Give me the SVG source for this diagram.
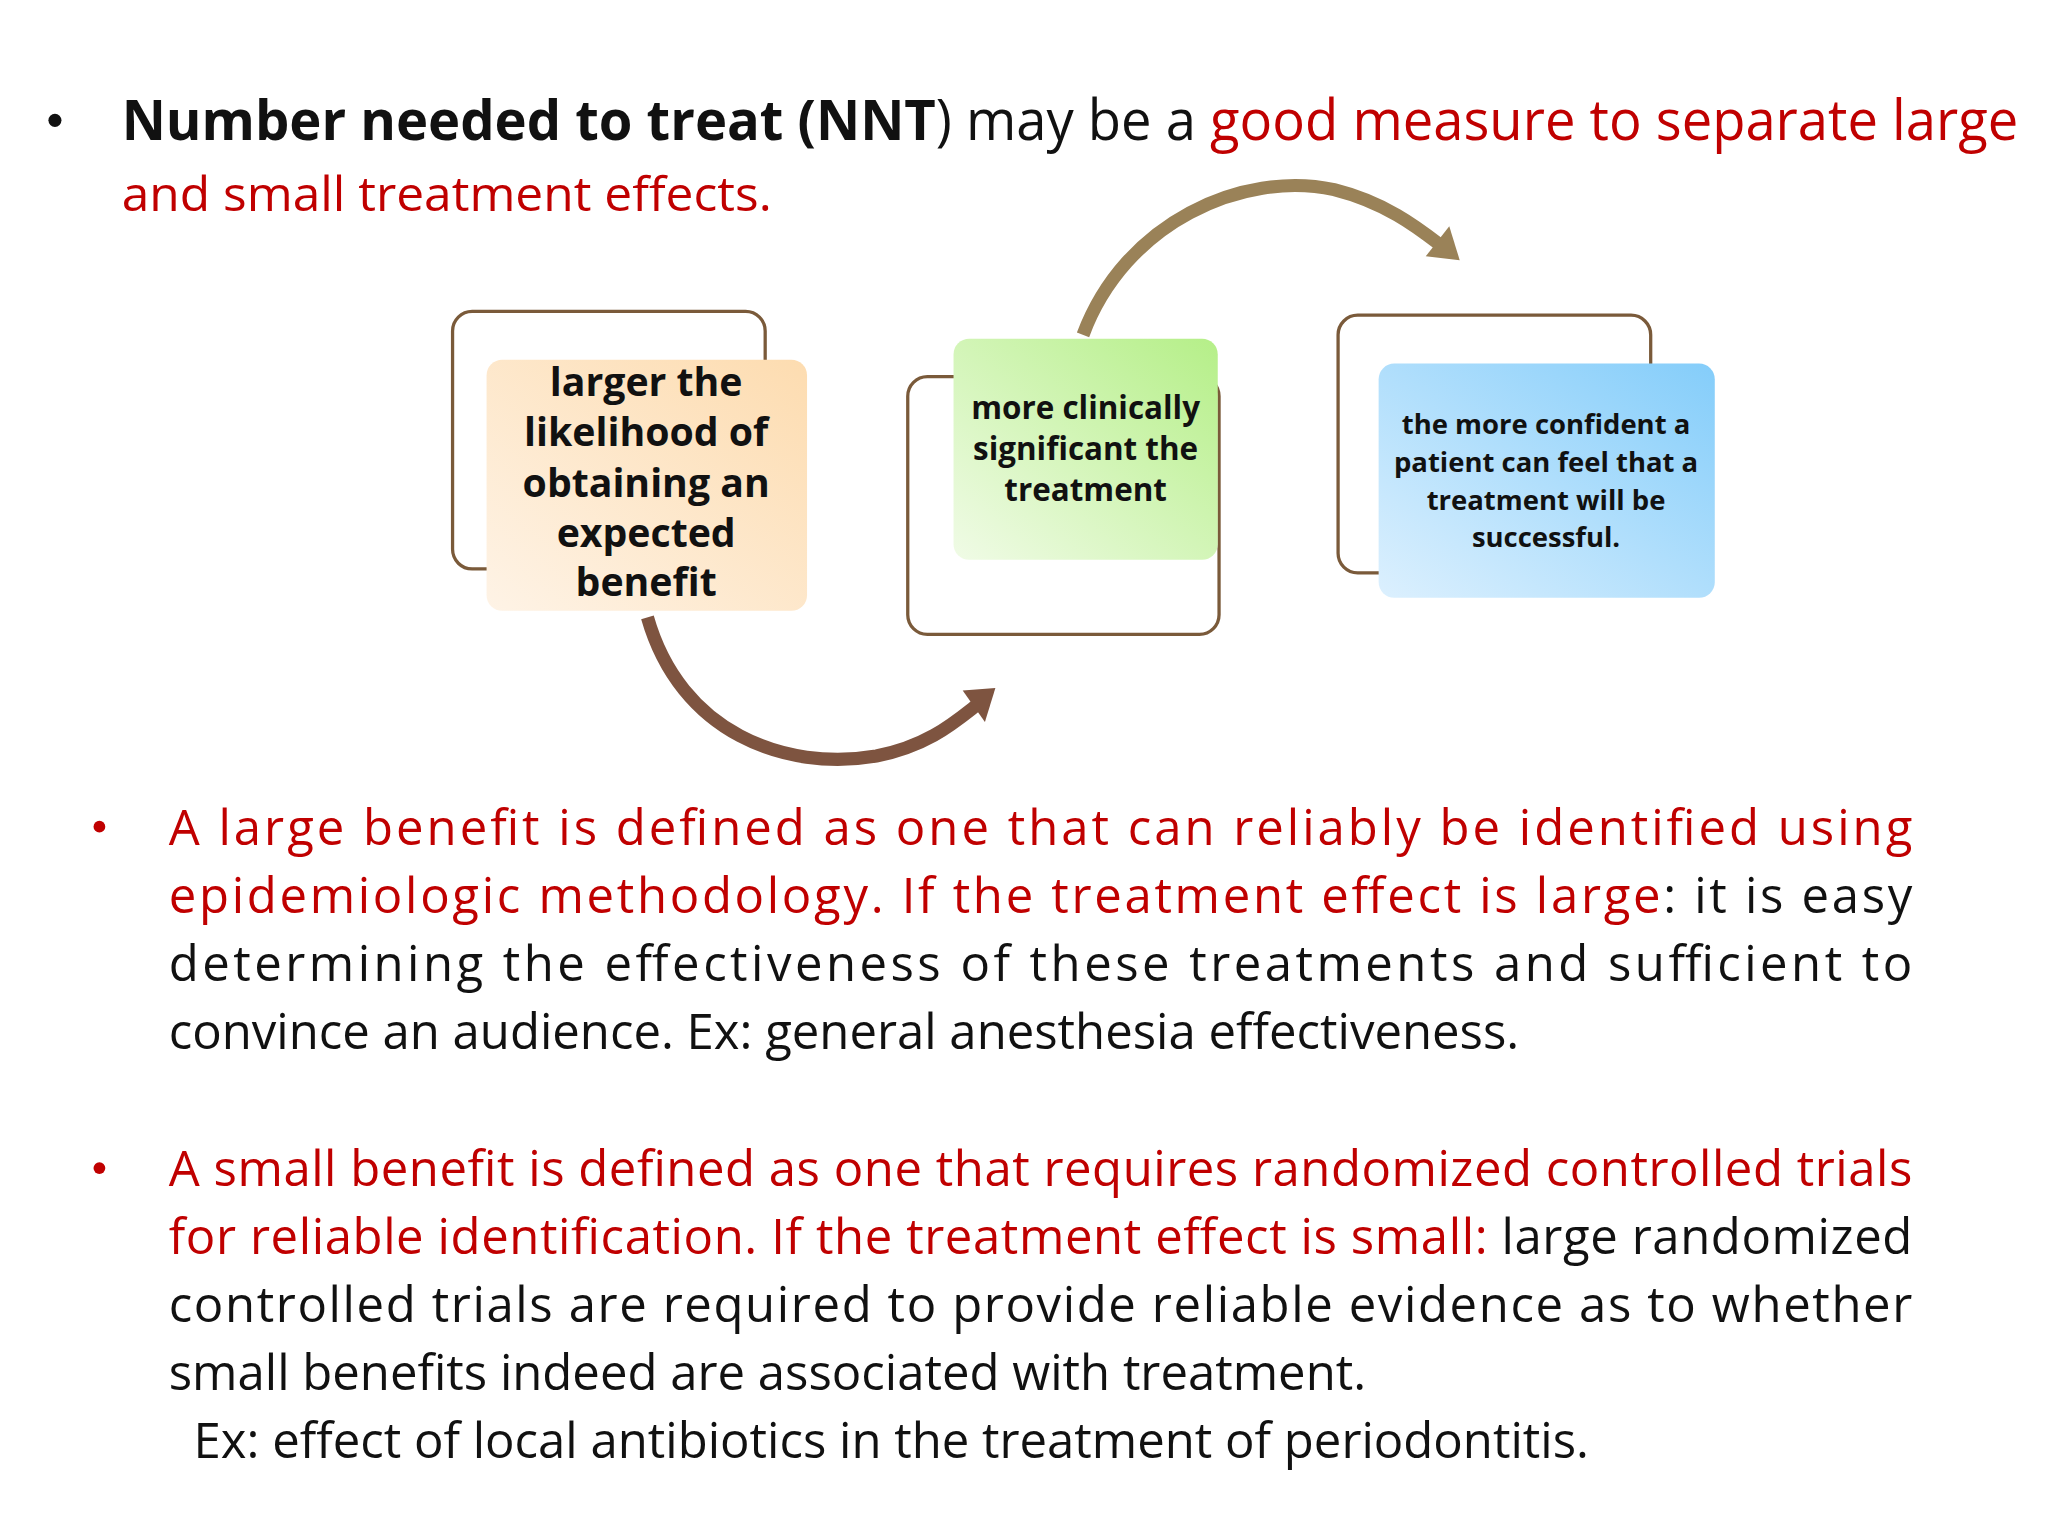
<svg xmlns="http://www.w3.org/2000/svg" width="2048" height="1536" viewBox="0 0 2048 1536">
<style>
text{font-family:"Open Sans","Liberation Sans",sans-serif}
.r{fill:#c00000}
.k{fill:#111}
.b{font-weight:bold;fill:#111;text-anchor:middle}
.ol{fill:none;stroke:#7a5a3a;stroke-width:2.5}
.p{font-size:37.5px}
</style>
<defs>
<linearGradient id="g1" x1="1" y1="0" x2="0" y2="1"><stop offset="0" stop-color="#fddcb0"/><stop offset="1" stop-color="#fef3e6"/></linearGradient>
<linearGradient id="g2" x1="1" y1="0" x2="0" y2="1"><stop offset="0" stop-color="#b5ef88"/><stop offset="1" stop-color="#f0fbe6"/></linearGradient>
<linearGradient id="g3" x1="1" y1="0" x2="0" y2="1"><stop offset="0" stop-color="#84cdfa"/><stop offset="1" stop-color="#dcf0fe"/></linearGradient>
</defs>
<rect width="2048" height="1536" fill="#fff"/>
<g transform="scale(1.308)">
<g id="title">
<circle cx="42" cy="92" r="5" fill="#111"/>
<text x="93" y="107" font-size="43" textLength="1450" lengthAdjust="spacingAndGlyphs"><tspan class="k" font-weight="bold">Number needed to treat (NNT</tspan><tspan class="k">) may be a </tspan><tspan class="r">good measure to separate large</tspan></text>
<text x="93" y="161" font-size="37" class="r" textLength="497" lengthAdjust="spacingAndGlyphs">and small treatment effects.</text>
</g>
<g id="connectors">
<path d="M495,472 C520,560 600,590 670,578 C710,570 730,552 748,538" fill="none" stroke="#7e5440" stroke-width="10"/>
<polygon points="736,528 761,526 753,552" fill="#7e5440"/>
<path d="M828,256 C860,170 950,130 1020,145 C1060,155 1085,175 1102,188" fill="none" stroke="#9a8258" stroke-width="10"/>
<polygon points="1090,196 1116,199 1108,173" fill="#9a8258"/>
</g>
<g id="n1">
<rect class="ol" x="346" y="238" width="239" height="197" rx="15"/>
<rect x="372" y="275" width="245" height="192" rx="12" fill="url(#g1)"/>
<text class="b" font-size="30"><tspan x="494" y="303">larger the</tspan><tspan x="494" y="341">likelihood of</tspan><tspan x="494" y="380">obtaining an</tspan><tspan x="494" y="418">expected</tspan><tspan x="494" y="456">benefit</tspan></text>
</g>
<g id="n2">
<rect class="ol" x="694" y="288" width="238" height="197" rx="15"/>
<rect x="729" y="259" width="202" height="169" rx="12" fill="url(#g2)"/>
<text class="b" font-size="24"><tspan x="830" y="320">more clinically</tspan><tspan x="830" y="352">significant the</tspan><tspan x="830" y="383">treatment</tspan></text>
</g>
<g id="n3">
<rect class="ol" x="1023" y="241" width="239" height="197" rx="15"/>
<rect x="1054" y="278" width="257" height="179" rx="12" fill="url(#g3)"/>
<text class="b" font-size="21"><tspan x="1182" y="332">the more confident a</tspan><tspan x="1182" y="361">patient can feel that a</tspan><tspan x="1182" y="390">treatment will be</tspan><tspan x="1182" y="418">successful.</tspan></text>
</g>
<g id="body" class="p">
<circle cx="76" cy="632" r="4.5" fill="#c00000"/>
<text x="129" y="646" class="r" textLength="1333" lengthAdjust="spacing">A large benefit is defined as one that can reliably be identified using</text>
<text x="129" y="698" textLength="1333" lengthAdjust="spacing"><tspan class="r">epidemiologic methodology. If the treatment effect is large</tspan><tspan class="k">: it is easy</tspan></text>
<text x="129" y="750" class="k" textLength="1333" lengthAdjust="spacing">determining the effectiveness of these treatments and sufficient to</text>
<text x="129" y="802" class="k">convince an audience. Ex: general anesthesia effectiveness.</text>
<circle cx="76" cy="893" r="4.5" fill="#c00000"/>
<text x="129" y="907" class="r" textLength="1333" lengthAdjust="spacing">A small benefit is defined as one that requires randomized controlled trials</text>
<text x="129" y="959" textLength="1333" lengthAdjust="spacing"><tspan class="r">for reliable identification. If the treatment effect is small: </tspan><tspan class="k">large randomized</tspan></text>
<text x="129" y="1011" class="k" textLength="1333" lengthAdjust="spacing">controlled trials are required to provide reliable evidence as to whether</text>
<text x="129" y="1063" class="k">small benefits indeed are associated with treatment.</text>
<text x="148" y="1115" class="k">Ex: effect of local antibiotics in the treatment of periodontitis.</text>
</g>
</g>
</svg>
